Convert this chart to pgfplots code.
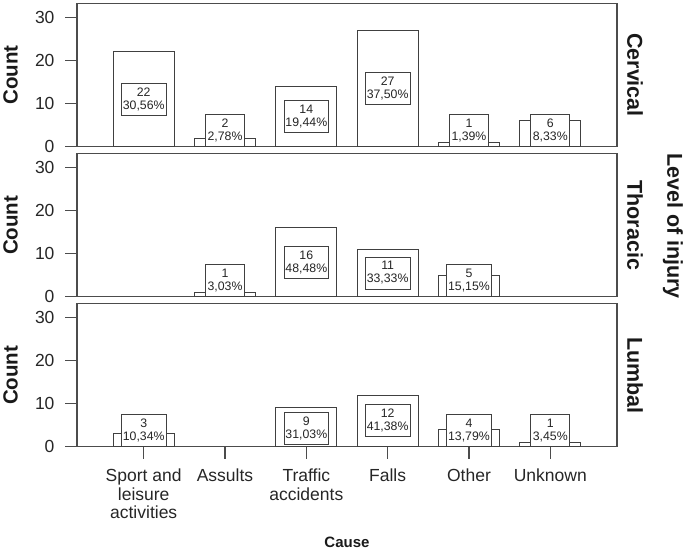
\documentclass[border=0pt]{standalone}
\usepackage{pgfplots}
\pgfplotsset{compat=1.18}
\usepackage{fontspec}
\setmainfont{Liberation Sans}

\pgfplotsset{
  panel/.style={
    scale only axis, width=540pt, height=143pt,
    xmin=-0.82, xmax=5.82, ymin=0, ymax=33.2,
    ytick={0,10,20,30}, ytick pos=left,
    tick align=outside, major tick length=12pt,
    axis line style={draw=black!70, line width=1.1pt},
    tick style={draw=black!70, line width=1.1pt},
    yticklabel style={font=\fontsize{17.5}{18}\selectfont, text=black!85, xshift=-7pt},
    /pgf/number format/assume math mode=true,
    clip=false,
  },
  bars/.style={ybar, bar shift=0pt, bar width=0.75, draw=black!75, fill=white, line width=0.9pt},
  labs/.style={only marks, mark=*, mark options={draw=none, fill=none},
    visualization depends on={value \thisrow{n} \as \cnt},
    visualization depends on={value \thisrow{p} \as \pct},
    nodes near coords={\cnt\\\pct\%},
    nodes near coords align=center,
    every node near coord/.append style={anchor=center, draw=black!75, fill=white,
      line width=0.8pt, minimum width=39pt, minimum height=32pt, inner sep=1.5pt,
      align=center, text=black!85, font=\fontsize{12.3}{13}\selectfont},
  },
}

\begin{document}
\begin{tikzpicture}
\useasboundingbox (0,0) rectangle (685pt,-551pt);

% ---- Cervical ----
\begin{axis}[panel, at={(77pt,-146.7pt)}, anchor=south west, xtick=\empty]
\addplot[bars] table[x=x, y=v] {
x v
0 22
1 2
2 14
3 27
4 1
5 6
};
\addplot[labs] table[x=x, y=ly] {
x ly n p
0 11 22 30,56
1 3.75 2 2,78
2 7 14 19,44
3 13.5 27 37,50
4 3.75 1 1,39
5 3.75 6 8,33
};
\end{axis}

% ---- Thoracic ----
\begin{axis}[panel, at={(77pt,-296.7pt)}, anchor=south west, xtick=\empty]
\addplot[bars] table[x=x, y=v] {
x v
1 1
2 16
3 11
4 5
};
\addplot[labs] table[x=x, y=ly] {
x ly n p
1 3.75 1 3,03
2 8 16 48,48
3 5.5 11 33,33
4 3.75 5 15,15
};
\end{axis}

% ---- Lumbal ----
\begin{axis}[panel, at={(77pt,-446.7pt)}, anchor=south west,
  xtick={0,1,2,3,4,5}, xtick pos=bottom,
  xticklabels={{Sport and\\leisure\\activities},Assults,{Traffic\\accidents},Falls,Other,Unknown},
  xticklabel style={align=center, font=\fontsize{17.5}{18.5}\selectfont, text=black!85, yshift=-7pt}]
\addplot[bars] table[x=x, y=v] {
x v
0 3
2 9
3 12
4 4
5 1
};
\addplot[labs] table[x=x, y=ly] {
x ly n p
0 3.75 3 10,34
2 4.2 9 31,03
3 6 12 41,38
4 3.75 4 13,79
5 3.75 1 3,45
};
\end{axis}

% ---- titles ----
\foreach \yc in {75, 225.3, 375.3}{
  \node[rotate=90, font=\fontsize{20.5}{22}\bfseries\selectfont, text=black!90] at (10.5pt,-\yc pt) {Count};
}
\node[rotate=-90, font=\fontsize{21.5}{23}\bfseries\selectfont, text=black!90] at (635pt,-75pt) {Cervical};
\node[rotate=-90, font=\fontsize{21.5}{23}\bfseries\selectfont, text=black!90] at (635pt,-225.3pt) {Thoracic};
\node[rotate=-90, font=\fontsize{21.5}{23}\bfseries\selectfont, text=black!90] at (635pt,-375.3pt) {Lumbal};
\node[rotate=-90, font=\fontsize{21.5}{23}\bfseries\selectfont, text=black!90] at (673pt,-226pt) {Level of injury};
\node[font=\fontsize{15}{16}\bfseries\selectfont, text=black!90] at (347pt,-542pt) {Cause};
\end{tikzpicture}
\end{document}
